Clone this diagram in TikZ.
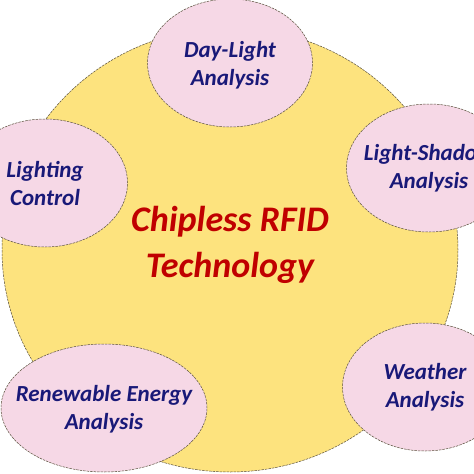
\documentclass[tikz,border=0pt]{standalone}
\usepackage{fontspec}
\setmainfont{Carlito}
\usetikzlibrary{shapes.geometric}
\definecolor{bigfill}{RGB}{253,227,126}
\definecolor{smallfill}{RGB}{246,216,230}
\definecolor{edgecol}{RGB}{90,80,60}
\definecolor{labelblue}{RGB}{25,25,120}
\definecolor{titlered}{RGB}{192,0,0}
\tikzset{
  bigell/.style={ellipse, fill=bigfill, draw=edgecol, dash pattern=on 2.5pt off 1pt, line width=0.5pt, inner sep=0pt},
  smallell/.style={ellipse, fill=smallfill, draw=edgecol, dash pattern=on 2.5pt off 1pt, line width=0.5pt, inner sep=0pt, minimum width=165pt, minimum height=128pt},
  lbl/.style={align=center, text=labelblue, font=\fontsize{23}{28}\selectfont\bfseries\itshape},
  ttl/.style={align=center, text=titlered, font=\fontsize{36}{46}\selectfont\bfseries\itshape}
}
\begin{document}
\begin{tikzpicture}[x=1pt,y=-1pt]
\useasboundingbox (0,0) rectangle (474,474);
\clip (0,0) rectangle (474,474);
\fill[white] (0,0) rectangle (474,474);
\node[bigell, minimum width=456pt, minimum height=444pt] (core) at (230,250) {};
\node[smallell] (day) at (230,63) {};
\node[smallell] (ctrl) at (45,183) {};
\node[smallell] (shadow) at (429,168) {};
\node[smallell, minimum width=206pt] (renew) at (104,408) {};
\node[smallell] (weather) at (425,387) {};
\node[lbl] (dayt) at (230,65) {Day-Light\\Analysis};
\node[lbl] (ctrlt) at (45,184) {Lighting\\Control};
\node[lbl] (shadowt) at (429,168) {Light-Shadow\\Analysis};
\node[lbl] (renewt) at (104,409) {Renewable Energy\\Analysis};
\node[lbl] (weathert) at (425,387) {Weather\\Analysis};
\node[ttl] (title) at (230,245) {Chipless RFID\\Technology};
\end{tikzpicture}
\end{document}
